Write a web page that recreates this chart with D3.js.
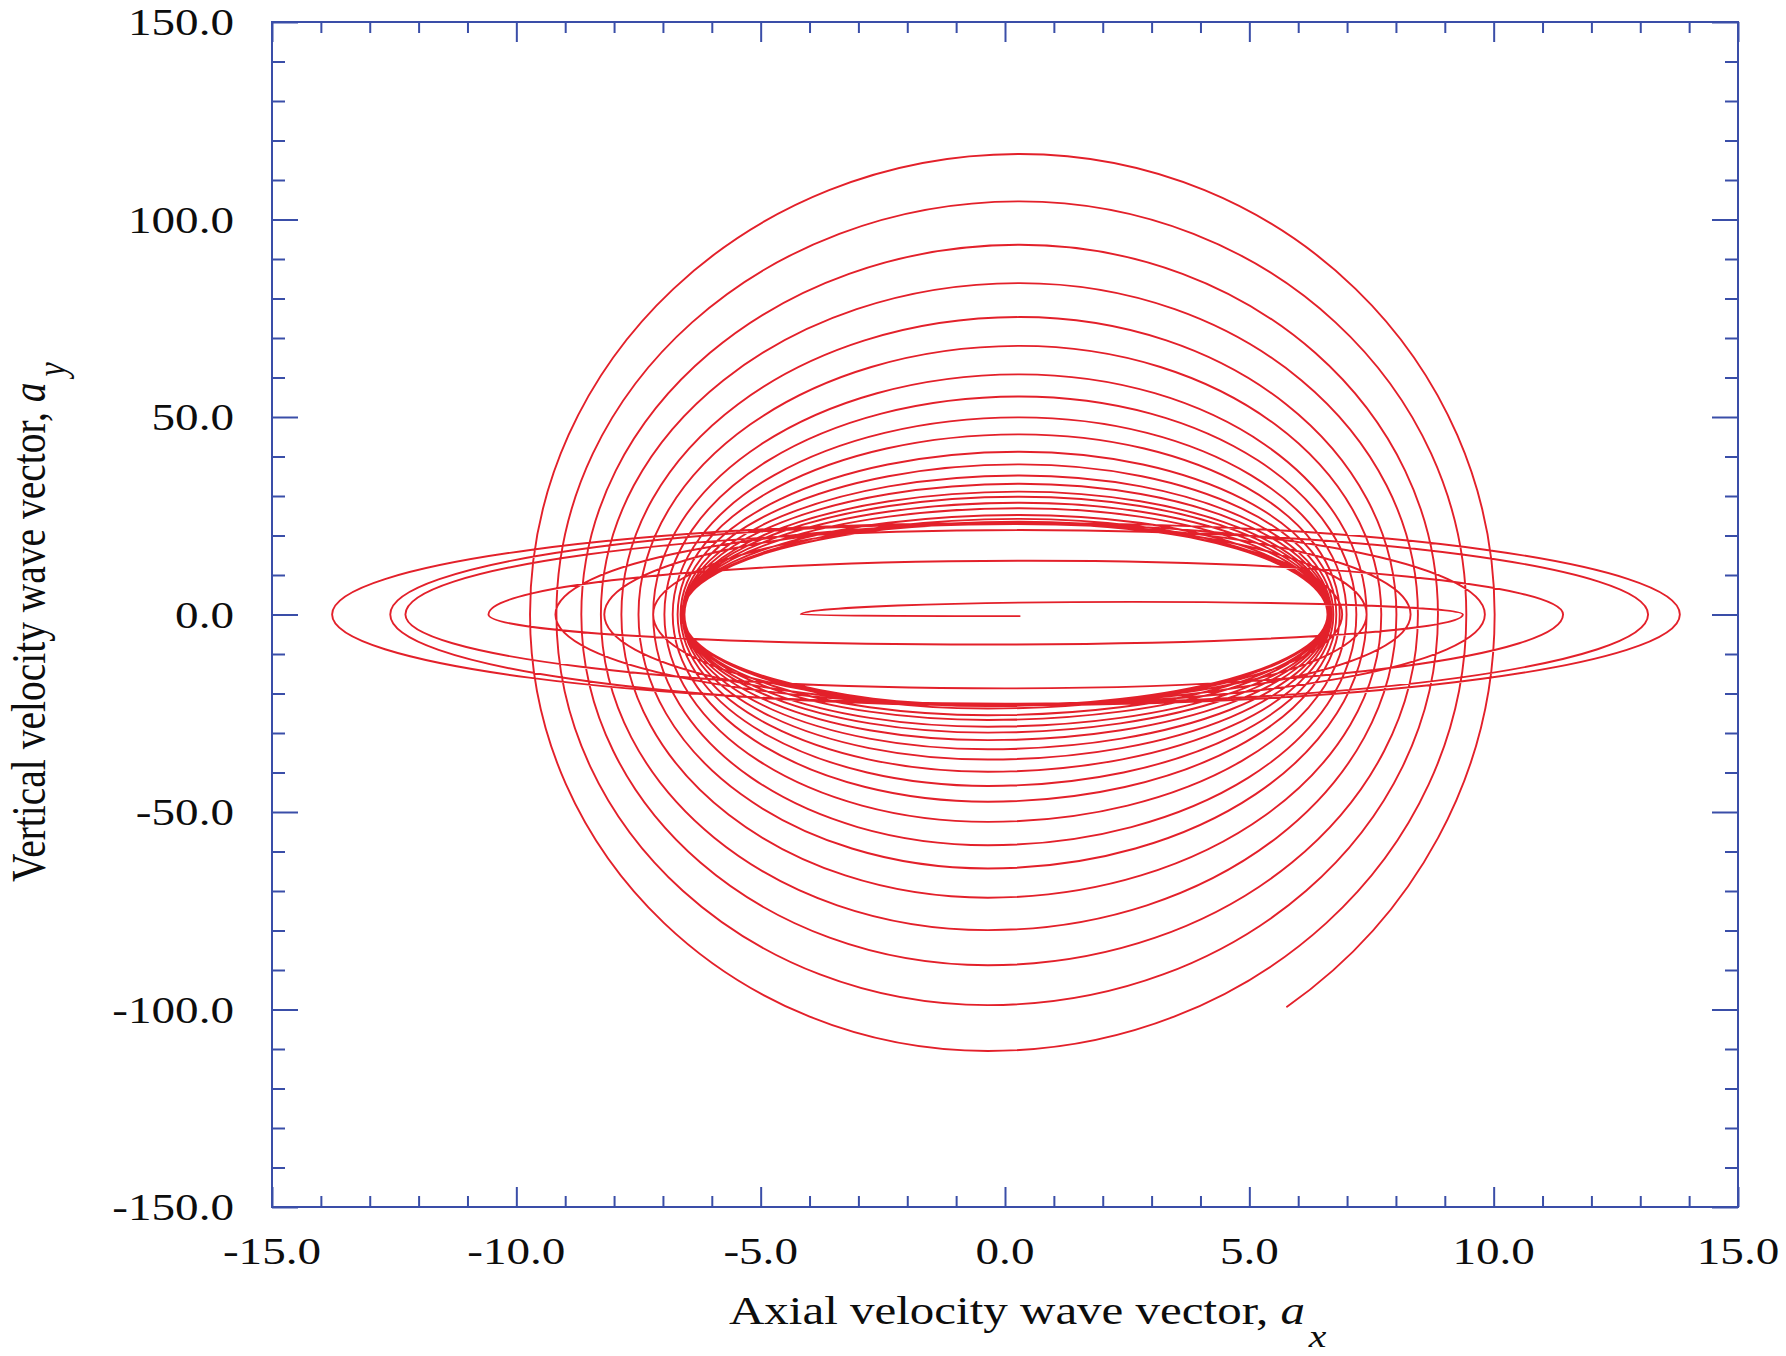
<!DOCTYPE html>
<html>
<head>
<meta charset="utf-8">
<script src="https://cdn.jsdelivr.net/npm/d3@7"></script>
<style>
html,body{margin:0;padding:0;background:#ffffff;}
svg{display:block;}
</style>
</head>
<body>
<svg id="chart" width="1786" height="1356"></svg>
<script>
// ---------- tick values & labels ----------
const xTickValues = [-15, -10, -5, 0, 5, 10, 15];
const xTickLabels = ["-15.0", "-10.0", "-5.0", "0.0", "5.0", "10.0", "15.0"];
const yTickValues = [-150, -100, -50, 0, 50, 100, 150];
const yTickLabels = ["-150.0", "-100.0", "-50.0", "0.0", "50.0", "100.0", "150.0"];
const xMinorStep = 1;
const yMinorStep = 10;

// ---------- trajectory: early (flat, elongated) turning points ----------
// alternating extremes: start, left tip, top, right tip, bottom, left tip, ...
const earlyX = [0.3, -4.18, 2.6, 9.37, -0.5, -10.57, 0.5, 11.42, 0.0, -12.27, 0.3, 13.16, 0.0,
                -13.77, 0.2, 13.81, 0.0, -12.58, 0.2, 9.82, -0.2, -9.2, 0.2, 8.3, -0.2,
                -8.2, 0.2, 7.4, -0.2, -7.2, 0.2, 6.9, -0.2];
const earlyY = [-0.4, 0, 3.2, 0, -7.6, 0, 13.6, 0, -18.7, 0, 21.4, 0, -22.6,
                0, 23.2, 0, -23.0, 0, 23.0, 0, -22.8, 0, 22.9, 0, -22.8,
                0, 23.0, 0, -22.9, 0, 23.1, 0, -23.1];

// ---------- trajectory: later growing loops (inner -> outer) ----------
const loopLeft   = [-6.62, -6.60, -6.60, -6.58, -6.57, -6.56, -6.56, -6.57, -6.58, -6.60, -6.64,
                    -6.70, -6.80, -6.97, -7.20, -7.50, -7.85, -8.27, -8.67, -9.18, -9.72];
const loopTop    = [23.5, 24.2, 25.2, 26.9, 28.3, 29.8, 31.1, 33.1, 35.2, 38.0, 41.2,
                    45.6, 49.9, 55.2, 60.8, 68.0, 75.3, 83.9, 93.6, 104.6, 116.6];
const loopRight  = [6.60, 6.60, 6.60, 6.60, 6.61, 6.62, 6.64, 6.66, 6.68, 6.72, 6.78,
                    6.85, 6.99, 7.19, 7.40, 7.70, 8.01, 8.45, 8.86, 9.44, 10.02];
const loopBottom = [-23.2, -23.8, -25.5, -26.7, -28.4, -29.9, -31.8, -34.1, -36.7, -39.8,
                    -43.4, -47.4, -52.5, -58.4, -64.3, -71.7, -79.9, -88.8, -98.9, -110.5];
const topShift = 0.3;       // ax at the top of the late loops
const bottomShift = -0.35;  // ax at the bottom of the late loops
const sideLevel = 0.0;      // ay at the left/right extremes
const tailGhost = [-0.35, -123.0]; // next (not reached) bottom of the last loop
const tailEnd = [5.79, -99.3];      // where the curve stops

// ---------- layout ----------
const W = 1786, H = 1356;
const plotL = 272, plotR = 1738, plotT = 22, plotB = 1207;
const axisColor = "#3a4ea8";
const lineColor = "#e3202a";
const textColor = "#0d0d0d";
const stretch = 1.24;
const fontFam = "'Liberation Serif','Times New Roman',Times,serif";

const svg = d3.select("#chart");
svg.append("rect").attr("width", W).attr("height", H).attr("fill", "#ffffff");

const x = d3.scaleLinear().domain([-15, 15]).range([plotL, plotR]);
const y = d3.scaleLinear().domain([-150, 150]).range([plotB, plotT]);

// ---------- trajectory path ----------
const seqX = [], seqY = [];
earlyX.forEach((v, i) => { seqX.push(v); seqY.push(earlyY[i]); });
for (let k = 0; k < loopTop.length; k++) {
  seqX.push(loopLeft[k]);  seqY.push(sideLevel);
  seqX.push(topShift);     seqY.push(loopTop[k]);
  seqX.push(loopRight[k]); seqY.push(sideLevel);
  if (k < loopBottom.length) { seqX.push(bottomShift); seqY.push(loopBottom[k]); }
}

const K = 0.5523;
const p = d3.path();
let px = x(seqX[0]), py = y(seqY[0]);
p.moveTo(px, py);
for (let i = 1; i < seqX.length; i++) {
  const qx = x(seqX[i]), qy = y(seqY[i]);
  if ((i - 1) % 2 === 0) {
    // from a horizontal-tangent point to a vertical-tangent point
    p.bezierCurveTo(px + K * (qx - px), py, qx, qy + K * (py - qy), qx, qy);
  } else {
    // from a vertical-tangent point to a horizontal-tangent point
    p.bezierCurveTo(px, py + K * (qy - py), qx + K * (px - qx), qy, qx, qy);
  }
  px = qx; py = qy;
}
// final partial quarter
{
  const gx = x(tailGhost[0]), gy = y(tailGhost[1]);
  const P0 = [px, py], P1 = [px, py + K * (gy - py)], P2 = [gx + K * (px - gx), gy], P3 = [gx, gy];
  const bez = (t, a, b, c, d) => { const u = 1 - t; return u*u*u*a + 3*u*u*t*b + 3*u*t*t*c + t*t*t*d; };
  const ty = y(tailEnd[1]);
  let lo = 0, hi = 1;
  for (let it = 0; it < 60; it++) {
    const m = (lo + hi) / 2;
    if (bez(m, P0[1], P1[1], P2[1], P3[1]) < ty) lo = m; else hi = m;
  }
  const t = (lo + hi) / 2;
  const lerp = (a, b) => [a[0] + (b[0] - a[0]) * t, a[1] + (b[1] - a[1]) * t];
  const A = lerp(P0, P1), B = lerp(P1, P2), C = lerp(P2, P3);
  const D = lerp(A, B), E = lerp(B, C);
  const F = lerp(D, E);
  p.bezierCurveTo(A[0], A[1], D[0], D[1], F[0], F[1]);
}

svg.append("path")
  .attr("d", p.toString())
  .attr("fill", "none")
  .attr("stroke", lineColor)
  .attr("stroke-width", 1.9)
  .attr("stroke-linejoin", "round")
  .attr("stroke-linecap", "round");

// ---------- axes (ticks inward on all four sides) ----------
const xMinor = d3.range(-15, 15.001, xMinorStep).filter(v => !xTickValues.includes(Math.round(v)));
const yMinor = d3.range(-150, 150.001, yMinorStep).filter(v => !yTickValues.includes(Math.round(v)));

function styleAxis(sel) {
  sel.select(".domain").remove();
  sel.selectAll(".tick line").attr("stroke", axisColor).attr("stroke-width", 2);
  sel.selectAll(".tick text").remove();
}
const majX = 20, minX = 11, majY = 26, minY = 13;

svg.append("g").attr("transform", `translate(0,${plotB})`)
  .call(d3.axisBottom(x).tickValues(xTickValues).tickSizeInner(-majX).tickSizeOuter(0)).call(styleAxis);
svg.append("g").attr("transform", `translate(0,${plotB})`)
  .call(d3.axisBottom(x).tickValues(xMinor).tickSizeInner(-minX).tickSizeOuter(0)).call(styleAxis);
svg.append("g").attr("transform", `translate(0,${plotT})`)
  .call(d3.axisTop(x).tickValues(xTickValues).tickSizeInner(-majX).tickSizeOuter(0)).call(styleAxis);
svg.append("g").attr("transform", `translate(0,${plotT})`)
  .call(d3.axisTop(x).tickValues(xMinor).tickSizeInner(-minX).tickSizeOuter(0)).call(styleAxis);
svg.append("g").attr("transform", `translate(${plotL},0)`)
  .call(d3.axisLeft(y).tickValues(yTickValues).tickSizeInner(-majY).tickSizeOuter(0)).call(styleAxis);
svg.append("g").attr("transform", `translate(${plotL},0)`)
  .call(d3.axisLeft(y).tickValues(yMinor).tickSizeInner(-minY).tickSizeOuter(0)).call(styleAxis);
svg.append("g").attr("transform", `translate(${plotR},0)`)
  .call(d3.axisRight(y).tickValues(yTickValues).tickSizeInner(-majY).tickSizeOuter(0)).call(styleAxis);
svg.append("g").attr("transform", `translate(${plotR},0)`)
  .call(d3.axisRight(y).tickValues(yMinor).tickSizeInner(-minY).tickSizeOuter(0)).call(styleAxis);

// frame
svg.append("rect")
  .attr("x", plotL).attr("y", plotT)
  .attr("width", plotR - plotL).attr("height", plotB - plotT)
  .attr("fill", "none").attr("stroke", axisColor).attr("stroke-width", 2);

// ---------- tick labels ----------
svg.append("g").selectAll("g.xl").data(xTickValues).join("g")
  .attr("transform", d => `translate(${x(d)},${plotB + 57})`)
  .append("text")
  .attr("transform", `scale(${stretch},1)`)
  .attr("text-anchor", "middle")
  .attr("font-family", fontFam).attr("font-size", 38).attr("fill", textColor)
  .text((d, i) => xTickLabels[i]);

svg.append("g").selectAll("g.yl").data(yTickValues).join("g")
  .attr("transform", d => `translate(${plotL - 38},${y(d) + 13})`)
  .append("text")
  .attr("transform", `scale(${stretch},1)`)
  .attr("text-anchor", "end")
  .attr("font-family", fontFam).attr("font-size", 38).attr("fill", textColor)
  .text((d, i) => yTickLabels[i]);

// ---------- axis titles ----------
const xt = svg.append("g").attr("transform", `translate(729,1324) scale(${stretch},1)`)
  .append("text")
  .attr("font-family", fontFam).attr("font-size", 39.5).attr("fill", textColor);
xt.append("tspan").text("Axial velocity wave vector, ");
xt.append("tspan").attr("font-style", "italic").text("a");
xt.append("tspan").attr("font-style", "italic").attr("font-size", 32).attr("dx", 3).attr("dy", 23).text("x");

const yt = svg.append("g").attr("transform", `translate(45,882) scale(${stretch},1) rotate(-90)`)
  .append("text")
  .attr("font-family", fontFam).attr("font-size", 39.5).attr("fill", textColor);
yt.append("tspan").text("Vertical velocity wave vector, ");
yt.append("tspan").attr("font-style", "italic").text("a");
yt.append("tspan").attr("font-style", "italic").attr("font-size", 32).attr("dx", 6).attr("dy", 16).text("y");
</script>
</body>
</html>
